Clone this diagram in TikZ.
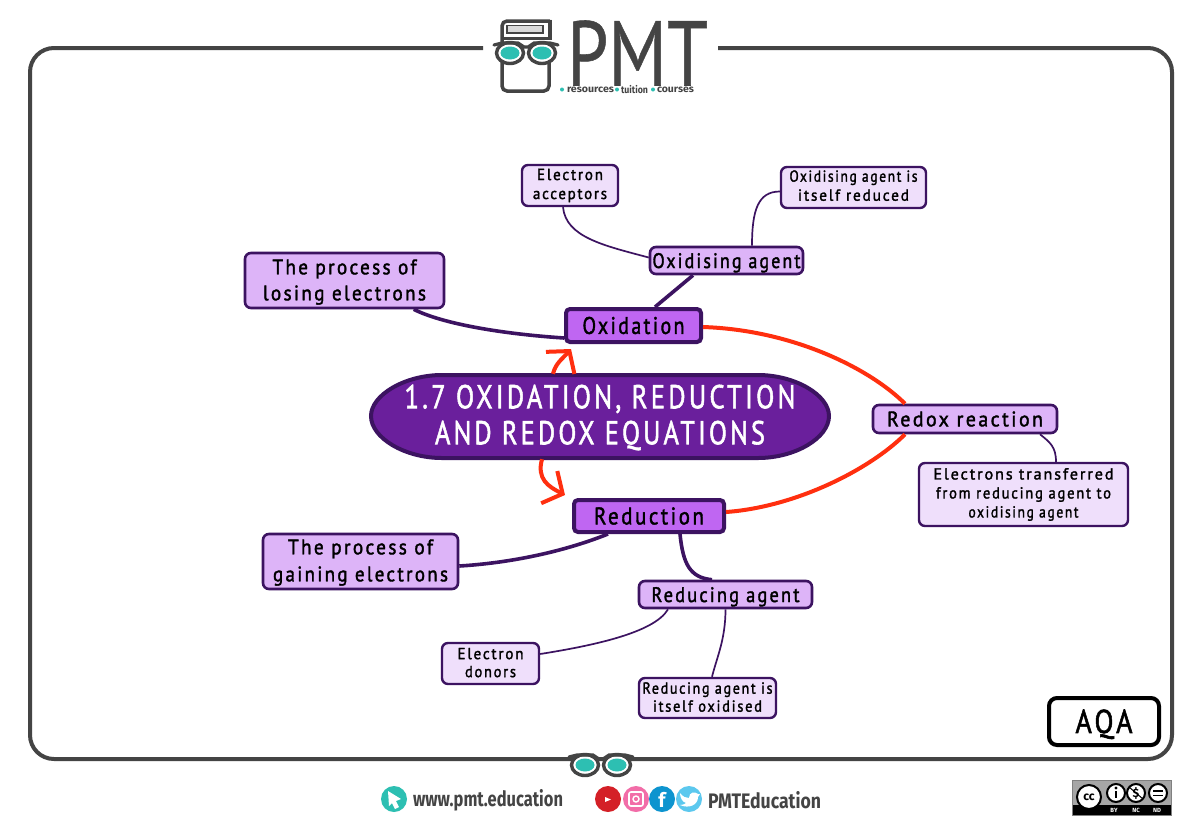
\documentclass[tikz,border=0pt]{standalone}
\usepackage{fontspec}
\setmainfont{PT Sans}[LetterSpace=12,FakeBold=1.8]
\newfontfamily\logofont{PT Sans}[FakeBold=0.6]
\newfontfamily\cutfont{Fira Sans}
\usetikzlibrary{arrows.meta,bending,calc}
\definecolor{deep}{HTML}{3C1361}
\definecolor{core}{HTML}{6A1F9C}
\definecolor{lvlone}{HTML}{BF66F2}
\definecolor{lvltwo}{HTML}{DDB4F8}
\definecolor{lvlthree}{HTML}{EFDFFB}
\definecolor{redline}{HTML}{FF2F0F}
\definecolor{frame}{HTML}{444444}
\definecolor{teal}{HTML}{2DBFB2}
\definecolor{ytred}{HTML}{D42027}
\definecolor{igpink}{HTML}{F26DA8}
\definecolor{fbblue}{HTML}{0D94CF}
\definecolor{twblue}{HTML}{5CC8EE}
\newcommand{\tw}[2]{\resizebox{#1pt}{\height}{#2}}
\newcommand{\st}[1]{\rule{0pt}{#1pt}}
\newcommand{\dk}[1]{\rule[-#1pt]{0pt}{1pt}}
\newcommand{\specs}[2]{%
\begin{scope}[shift={(#1,#2)}]
\draw[frame,line width=3.4pt,fill=white] (-16,0) ellipse [x radius=13.5,y radius=10.5];
\draw[frame,line width=3.4pt,fill=white] (16,0) ellipse [x radius=13.5,y radius=10.5];
\fill[teal] (-16,0) ellipse [x radius=9.5,y radius=6.5];
\fill[teal] (16,0) ellipse [x radius=9.5,y radius=6.5];
\draw[frame,line width=3.2pt,line cap=round] (-32,-8) -- (-24,-10) -- (-8,-10) -- (-2,-6) -- (2,-6) -- (8,-10) -- (24,-10) -- (32,-8);
\end{scope}}
\tikzset{
 box/.style={draw=deep,rounded corners=6pt,inner sep=0pt,align=center,text=black},
 lvla/.style={box,fill=lvlone,line width=4pt,rounded corners=4pt,font=\fontsize{24}{26}\selectfont},
 lvlb/.style={box,fill=lvltwo,line width=2.6pt,font=\fontsize{21}{26}\selectfont},
 lvlc/.style={box,fill=lvlthree,line width=2.4pt,font=\fontsize{16}{19}\selectfont},
 thin/.style={draw=deep,line width=1.7pt},
 thick/.style={draw=deep,line width=3.6pt},
 hot/.style={draw=redline,line width=4pt},
 hotarrow/.style={hot,-{Straight Barb[length=15pt,width=36pt,flex=0]}},
 footer/.style={frame,inner sep=0pt,font=\cutfont\bfseries\fontsize{21}{24}\selectfont},
 tiny/.style={frame,inner sep=0pt,font=\cutfont\bfseries\fontsize{10}{10}\selectfont},
 badge/.style={white,inner sep=0pt,font=\cutfont\bfseries\fontsize{6}{7}\selectfont},
}
\begin{document}
\begin{tikzpicture}[x=1pt,y=-1pt]
\useasboundingbox (0,0) rectangle (1200,831);
\fill[white] (0,0) rectangle (1200,831);
% frame
\draw[frame,line width=4pt,rounded corners=24pt] (483,48) -- (30,48) -- (30,759) -- (1172,759) -- (1172,48) -- (718,48);
% logo
\draw[frame,line width=3.5pt,rounded corners=5pt] (502,60) -- (502,91) -- (549,91) -- (549,62);
\draw[frame,line width=3.5pt,rounded corners=5pt] (502,44) -- (502,21) -- (550,21);
\draw[frame,line width=3.5pt] (550,19.5) -- (550,38.5) -- (504,38.5);
\draw[frame,line width=1.5pt,fill=black!15] (507,25.5) rectangle (543,33);
\specs{526}{53}
\node[inner sep=0pt,frame] (pmt) at (637.5,53) {\logofont\resizebox{141pt}{65pt}{PMT}};
\fill[teal] (562,89.5) circle[radius=2] (617,89.5) circle[radius=2] (653,89.5) circle[radius=2];
\node[tiny] (res) at (590.5,90) {\tw{47}{resources}};
\node[tiny] (tui) at (634.5,90) {\tw{27}{tuition}};
\node[tiny] (cou) at (675.5,90) {\tw{37}{courses}};
% footer
\specs{601}{765}
\fill[teal] (394,799) circle[radius=13];
\fill[white] (388,791) -- (401,799) -- (396,801) -- (399,807) -- (395,809) -- (392,803) -- (389,806) -- cycle;
\node[footer] (web) at (488,800) {\tw{150}{www.pmt.education}};
\fill[ytred] (608,799) circle[radius=13];
\fill[white] (605,797) -- (611,799.5) -- (605,802) -- cycle;
\fill[igpink] (636,799) circle[radius=13];
\draw[white,line width=1.6pt,rounded corners=2pt] (629,792) rectangle (643,806);
\draw[white,line width=1.4pt] (636,799) circle[radius=3];
\fill[fbblue] (662,799) circle[radius=13];
\node[white,inner sep=0pt,font=\cutfont\bfseries\fontsize{20}{20}\selectfont] (fbf) at (662,800) {f};
\fill[twblue] (689,799) circle[radius=13];
\fill[white] (680,793) .. controls (683,797) and (686,798) .. (689,798) .. controls (689,792) and (695,791) .. (698,794) -- (700,794) -- (698,797) .. controls (698,805) and (689,809) .. (680,805) .. controls (683,805) and (685,804) .. (686,803) .. controls (682,802) and (680,797) .. (680,793) -- cycle;
\node[footer] (pe) at (764.5,800) {\tw{113}{PMTEducation}};
% cc badge
\fill[black!35!white] (1072,780) rectangle (1171,815);
\fill[black] (1072,805) rectangle (1171,815);
\draw[black!50!white,line width=.8pt] (1072,780) rectangle (1171,815);
\draw[black,line width=2pt,fill=white] (1089,797) circle[radius=12];
\draw[black,line width=2pt,fill=white] (1116,793) circle[radius=9];
\draw[black,line width=2pt,fill=white] (1136,793) circle[radius=9];
\draw[black,line width=2pt,fill=white] (1158,793) circle[radius=9];
\node[inner sep=0pt,font=\cutfont\bfseries\fontsize{12}{12}\selectfont] (cc) at (1089,797) {cc};
\fill[black] (1116,788) circle[radius=1.6];
\draw[black,line width=2.4pt] (1116,791) -- (1116,798);
\node[inner sep=0pt,font=\cutfont\bfseries\fontsize{12}{12}\selectfont] (nc) at (1136,793) {\$};
\draw[black,line width=1pt] (1129,787) -- (1143,799);
\draw[black,line width=1.6pt] (1153,791) -- (1163,791) (1153,795.5) -- (1163,795.5);
\node[badge] (by) at (1114,810) {BY};
\node[badge] (ncl) at (1136,810) {NC};
\node[badge] (nd) at (1157,810) {ND};
% central pill
\draw[deep,line width=4pt,fill=core] (371,416) .. controls (371,395) and (405,375) .. (442,375) -- (758,375) .. controls (795,375) and (829,395) .. (829,416) .. controls (829,438) and (795,458) .. (758,458) -- (442,458) .. controls (405,458) and (371,438) .. (371,416) -- cycle;
\node[inner sep=0pt,minimum width=460pt,minimum height=85pt,align=center,text=white,font=\fontsize{33}{36}\selectfont] (main) at (600,416.5) {\st{25.5}\tw{391}{1.7 OXIDATION, REDUCTION}\\\tw{330}{AND REDOX EQUATIONS}};
\node[lvla,minimum width=135pt,minimum height=33pt] (ox) at (633.5,325.5) {\tw{102}{Oxidation}};
\node[lvla,minimum width=150pt,minimum height=32pt] (re) at (649,516) {\tw{110}{Reduction}};
\node[lvlb,minimum width=153pt,minimum height=27pt] (oa) at (726.5,260.5) {\st{19.5}\tw{148}{Oxidising agent}};
\node[lvlb,minimum width=184pt,minimum height=28pt] (rr) at (965,419) {\tw{156}{Redox reaction}};
\node[lvlb,minimum width=173pt,minimum height=27pt] (ra) at (725.5,594.5) {\st{19.5}\tw{148}{Reducing agent}};
\node[lvlb,minimum width=199pt,minimum height=55pt] (lose) at (344.5,280.5) {\st{18}\tw{144}{The process of}\\\tw{163}{losing electrons}};
\node[lvlb,minimum width=195pt,minimum height=55pt,font=\fontsize{21}{27}\selectfont] (gain) at (360.5,561.5) {\st{17}\tw{145}{The process of}\\\tw{175}{gaining electrons}};
\node[lvlc,minimum width=96pt,minimum height=41pt] (acc) at (570,185.5) {\tw{66}{Electron}\\\tw{74}{acceptors}};
\node[lvlc,minimum width=145pt,minimum height=41pt] (oir) at (853.5,187.5) {\tw{128}{Oxidising agent is}\\\tw{111}{itself reduced}\dk{4}};
\node[lvlc,minimum width=209pt,minimum height=63pt] (et) at (1023.5,494.5) {\tw{180}{Electrons transferred}\\\tw{175}{from reducing agent to}\\\tw{110}{oxidising agent}};
\node[lvlc,minimum width=97pt,minimum height=41pt,font=\fontsize{16}{18}\selectfont] (don) at (490.5,663.5) {\tw{66}{Electron}\\\tw{51}{donors}\dk{2}};
\node[lvlc,minimum width=137pt,minimum height=40pt,font=\fontsize{16}{18}\selectfont] (rio) at (707.5,698) {\tw{130}{Reducing agent is}\\\tw{109}{itself oxidised}\dk{2}};
\node[box,draw=black,line width=4pt,rounded corners=8pt,minimum width=110pt,minimum height=47pt,font=\fontsize{33}{35}\selectfont] (aqa) at (1104,721.5) {\st{29}\tw{57}{AQA}};
% connectors
\draw[thin] ([xshift=-7pt]acc.south) .. controls +(3,30) and +(-45,-12) .. ([yshift=3pt]oa.west);
\draw[thin] ([xshift=25.5pt]oa.north) .. controls +(0,-35) and +(-22,0) .. ([yshift=-4pt]oir.west);
\draw[thick] ([xshift=21.5pt]ox.north) -- ([xshift=-33.5pt]oa.south);
\draw[thick] ([xshift=170pt]lose.south west) .. controls +(30,15) and +(-60,-4) .. ([yshift=-12.5pt]ox.west);
\draw[thick] ([xshift=-41pt]re.south) .. controls +(-45,18) and +(50,-3) .. ([yshift=-4.5pt]gain.east);
\draw[thick] ([xshift=31pt]re.south) .. controls +(3,30) and +(-22,-2) .. ([xshift=-13.5pt]ra.north);
\draw[thin] ([xshift=-57.5pt]ra.south) .. controls +(-14,24) and +(50,-8) .. ([yshift=9.5pt]don.east);
\draw[thin] ([xshift=0pt]ra.south) .. controls +(0,30) and +(5,-20) .. ([xshift=4.5pt]rio.north);
\draw[thin] ([xshift=75pt]rr.south) .. controls +(10,8) and +(0,-15) .. ([xshift=32.5pt]et.north);
\draw[hot] ([yshift=-1.5pt]ox.east) .. controls +(90,3) and +(-35,-35) .. ([xshift=-60pt]rr.north);
\draw[hot] ([yshift=4pt]re.east) .. controls +(70,-5) and +(-35,35) .. ([xshift=-60pt]rr.south);
\draw[hotarrow] ([xshift=-47pt]main.north) .. controls +(3,-12) and +(-7,9) .. ([xshift=7pt,yshift=-5pt]ox.south west);
\draw[hotarrow] ([xshift=-58pt]main.south) .. controls +(-6,22) and +(-14,-7) .. ([xshift=-7pt,yshift=3pt]re.north west);
\end{tikzpicture}
\end{document}
